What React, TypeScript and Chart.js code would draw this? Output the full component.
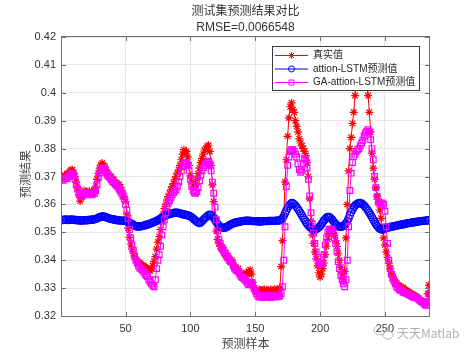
import React, { useEffect, useRef } from 'react';
import { Chart, registerables } from 'chart.js';

Chart.register(...registerables);

const titleText = '测试集预测结果对比';
const subtitleText = 'RMSE=0.0066548';
const xLabel = '预测样本';
const yLabel = '预测结果';
const seriesNames = ['真实值', 'attion-LSTM预测值', 'GA-attion-LSTM预测值'];
const xTicks = [50, 100, 150, 200, 250];
const yTicks = [0.32, 0.33, 0.34, 0.35, 0.36, 0.37, 0.38, 0.39, 0.4, 0.41, 0.42];
const xMin = 1;
const xMax = 284;
const watermark = '天天Matlab';

const trueValues = [
  0.3700, 0.3698, 0.3705, 0.3702, 0.3710, 0.3712, 0.3718, 0.3722, 0.3724, 0.3712,
  0.3700, 0.3680, 0.3660, 0.3635, 0.3612, 0.3625, 0.3638, 0.3650, 0.3645, 0.3638,
  0.3642, 0.3648, 0.3640, 0.3645, 0.3638, 0.3652, 0.3665, 0.3690, 0.3712, 0.3730,
  0.3742, 0.3748, 0.3740, 0.3735, 0.3722, 0.3715, 0.3708, 0.3702, 0.3698, 0.3690,
  0.3688, 0.3680, 0.3676, 0.3670, 0.3672, 0.3662, 0.3650, 0.3640, 0.3625, 0.3610,
  0.3565, 0.3515, 0.3482, 0.3458, 0.3440, 0.3425, 0.3412, 0.3402, 0.3396, 0.3390,
  0.3392, 0.3385, 0.3382, 0.3380, 0.3375, 0.3372, 0.3368, 0.3365, 0.3362, 0.3368,
  0.3380, 0.3395, 0.3413, 0.3440, 0.3465, 0.3485, 0.3510, 0.3540, 0.3565, 0.3585,
  0.3600, 0.3615, 0.3628, 0.3640, 0.3652, 0.3664, 0.3675, 0.3688, 0.3700, 0.3712,
  0.3724, 0.3740, 0.3760, 0.3780, 0.3796, 0.3785, 0.3790, 0.3770, 0.3740, 0.3702,
  0.3680, 0.3665, 0.3662, 0.3670, 0.3690, 0.3710, 0.3730, 0.3750, 0.3765, 0.3780,
  0.3795, 0.3800, 0.3808, 0.3812, 0.3790, 0.3740, 0.3670, 0.3610, 0.3550, 0.3505,
  0.3475, 0.3460, 0.3450, 0.3440, 0.3445, 0.3425, 0.3420, 0.3410, 0.3415, 0.3400,
  0.3395, 0.3400, 0.3385, 0.3375, 0.3370, 0.3365, 0.3370, 0.3355, 0.3345, 0.3340,
  0.3350, 0.3345, 0.3355, 0.3350, 0.3360, 0.3365, 0.3350, 0.3320, 0.3300, 0.3290,
  0.3285, 0.3290, 0.3295, 0.3292, 0.3288, 0.3293, 0.3296, 0.3290, 0.3294, 0.3291,
  0.3289, 0.3295, 0.3292, 0.3290, 0.3296, 0.3293, 0.3290, 0.3294, 0.3300, 0.3377,
  0.3470, 0.3560, 0.3680, 0.3760, 0.3844, 0.3910, 0.3950, 0.3964, 0.3940, 0.3930,
  0.3900, 0.3880, 0.3860, 0.3835, 0.3820, 0.3810, 0.3800, 0.3790, 0.3775, 0.3750,
  0.3700, 0.3620, 0.3540, 0.3490, 0.3460, 0.3430, 0.3405, 0.3380, 0.3355, 0.3340,
  0.3350, 0.3370, 0.3390, 0.3420, 0.3450, 0.3475, 0.3495, 0.3509, 0.3505, 0.3500,
  0.3490, 0.3470, 0.3449, 0.3425, 0.3400, 0.3375, 0.3350, 0.3330, 0.3360, 0.3480,
  0.3600, 0.3720, 0.3800, 0.3840, 0.3890, 0.3930, 0.3990, 0.4030, 0.4050, 0.4065,
  0.4075, 0.4080, 0.4078, 0.4070, 0.4060, 0.4035, 0.3990, 0.3930, 0.3860, 0.3784,
  0.3730, 0.3690, 0.3660, 0.3630, 0.3605, 0.3580, 0.3550, 0.3515, 0.3480, 0.3455,
  0.3430, 0.3410, 0.3389, 0.3370, 0.3350, 0.3340, 0.3330, 0.3322, 0.3318, 0.3310,
  0.3308, 0.3305, 0.3300, 0.3302, 0.3296, 0.3292, 0.3290, 0.3286, 0.3284, 0.3280,
  0.3278, 0.3275, 0.3272, 0.3270, 0.3266, 0.3262, 0.3257, 0.3255, 0.3252, 0.3248,
  0.3245, 0.3250, 0.3280, 0.3311,
];

const attionLstm = [
  0.3545, 0.3544, 0.3545, 0.3546, 0.3545, 0.3544, 0.3545, 0.3546, 0.3545, 0.3545,
  0.3544, 0.3544, 0.3543, 0.3543, 0.3542, 0.3542, 0.3543, 0.3543, 0.3543, 0.3543,
  0.3544, 0.3544, 0.3545, 0.3545, 0.3546, 0.3547, 0.3548, 0.3550, 0.3552, 0.3554,
  0.3556, 0.3557, 0.3557, 0.3556, 0.3554, 0.3552, 0.3550, 0.3549, 0.3548, 0.3547,
  0.3546, 0.3545, 0.3544, 0.3543, 0.3543, 0.3542, 0.3542, 0.3542, 0.3542, 0.3541,
  0.3540, 0.3538, 0.3535, 0.3532, 0.3530, 0.3527, 0.3524, 0.3522, 0.3521, 0.3521,
  0.3521, 0.3522, 0.3523, 0.3524, 0.3525, 0.3527, 0.3528, 0.3530, 0.3531, 0.3533,
  0.3535, 0.3537, 0.3539, 0.3541, 0.3544, 0.3546, 0.3549, 0.3552, 0.3555, 0.3558,
  0.3561, 0.3563, 0.3565, 0.3566, 0.3567, 0.3568, 0.3569, 0.3570, 0.3570, 0.3570,
  0.3569, 0.3568, 0.3567, 0.3565, 0.3564, 0.3563, 0.3562, 0.3561, 0.3559, 0.3557,
  0.3554, 0.3550, 0.3546, 0.3542, 0.3538, 0.3535, 0.3533, 0.3535, 0.3540, 0.3545,
  0.3550, 0.3554, 0.3558, 0.3562, 0.3563, 0.3562, 0.3558, 0.3551, 0.3544, 0.3537,
  0.3530, 0.3524, 0.3520, 0.3517, 0.3516, 0.3516, 0.3517, 0.3519, 0.3522, 0.3525,
  0.3528, 0.3530, 0.3532, 0.3534, 0.3535, 0.3536, 0.3537, 0.3538, 0.3539, 0.3540,
  0.3541, 0.3541, 0.3542, 0.3542, 0.3542, 0.3541, 0.3541, 0.3540, 0.3540, 0.3540,
  0.3540, 0.3539, 0.3539, 0.3539, 0.3539, 0.3540, 0.3540, 0.3540, 0.3540, 0.3541,
  0.3541, 0.3541, 0.3541, 0.3541, 0.3541, 0.3542, 0.3542, 0.3542, 0.3543, 0.3545,
  0.3550, 0.3558, 0.3568, 0.3578, 0.3587, 0.3595, 0.3601, 0.3605, 0.3604, 0.3601,
  0.3596, 0.3590, 0.3583, 0.3576, 0.3568, 0.3560, 0.3552, 0.3545, 0.3537, 0.3530,
  0.3524, 0.3519, 0.3515, 0.3512, 0.3510, 0.3510, 0.3511, 0.3514, 0.3518, 0.3522,
  0.3528, 0.3535, 0.3542, 0.3548, 0.3553, 0.3555, 0.3555, 0.3552, 0.3547, 0.3541,
  0.3535, 0.3530, 0.3525, 0.3522, 0.3520, 0.3520, 0.3521, 0.3523, 0.3527, 0.3532,
  0.3540, 0.3550, 0.3562, 0.3573, 0.3582, 0.3590, 0.3596, 0.3600, 0.3603, 0.3605,
  0.3605, 0.3603, 0.3600, 0.3595, 0.3590, 0.3584, 0.3577, 0.3570, 0.3562, 0.3554,
  0.3546, 0.3538, 0.3530, 0.3523, 0.3517, 0.3513, 0.3511, 0.3510, 0.3511, 0.3513,
  0.3515, 0.3516, 0.3518, 0.3519, 0.3520, 0.3521, 0.3522, 0.3523, 0.3524, 0.3525,
  0.3526, 0.3527, 0.3528, 0.3529, 0.3530, 0.3531, 0.3532, 0.3533, 0.3533, 0.3534,
  0.3535, 0.3536, 0.3537, 0.3537, 0.3538, 0.3539, 0.3540, 0.3540, 0.3541, 0.3541,
  0.3542, 0.3542, 0.3543, 0.3543,
];

const gaAttionLstm = [
  0.3690, 0.3686, 0.3692, 0.3695, 0.3693, 0.3700, 0.3705, 0.3710, 0.3712, 0.3705,
  0.3690, 0.3670, 0.3655, 0.3640, 0.3630, 0.3628, 0.3632, 0.3638, 0.3642, 0.3640,
  0.3636, 0.3640, 0.3636, 0.3634, 0.3638, 0.3640, 0.3650, 0.3670, 0.3695, 0.3712,
  0.3722, 0.3728, 0.3730, 0.3725, 0.3715, 0.3705, 0.3700, 0.3695, 0.3688, 0.3682,
  0.3678, 0.3672, 0.3668, 0.3662, 0.3655, 0.3648, 0.3640, 0.3630, 0.3620, 0.3600,
  0.3580, 0.3550, 0.3510, 0.3480, 0.3455, 0.3435, 0.3415, 0.3400, 0.3390, 0.3380,
  0.3372, 0.3368, 0.3365, 0.3358, 0.3350, 0.3345, 0.3340, 0.3330, 0.3322, 0.3315,
  0.3310, 0.3305, 0.3330, 0.3370, 0.3400, 0.3420, 0.3450, 0.3490, 0.3520, 0.3545,
  0.3570, 0.3593, 0.3605, 0.3615, 0.3625, 0.3635, 0.3642, 0.3648, 0.3652, 0.3665,
  0.3680, 0.3700, 0.3720, 0.3736, 0.3745, 0.3750, 0.3748, 0.3742, 0.3720, 0.3690,
  0.3665, 0.3650, 0.3642, 0.3640, 0.3645, 0.3660, 0.3685, 0.3705, 0.3720, 0.3732,
  0.3740, 0.3745, 0.3750, 0.3755, 0.3745, 0.3720, 0.3680, 0.3640, 0.3590, 0.3545,
  0.3505, 0.3475, 0.3460, 0.3445, 0.3438, 0.3430, 0.3425, 0.3415, 0.3408, 0.3400,
  0.3395, 0.3392, 0.3380, 0.3372, 0.3365, 0.3362, 0.3358, 0.3350, 0.3342, 0.3338,
  0.3335, 0.3330, 0.3325, 0.3318, 0.3312, 0.3315, 0.3320, 0.3312, 0.3300, 0.3290,
  0.3280, 0.3272, 0.3268, 0.3272, 0.3270, 0.3266, 0.3274, 0.3270, 0.3268, 0.3273,
  0.3270, 0.3266, 0.3272, 0.3275, 0.3270, 0.3268, 0.3273, 0.3270, 0.3272, 0.3280,
  0.3305, 0.3400, 0.3520, 0.3664, 0.3740, 0.3770, 0.3790, 0.3796, 0.3796, 0.3790,
  0.3780, 0.3770, 0.3745, 0.3725, 0.3715, 0.3720, 0.3745, 0.3765, 0.3760, 0.3730,
  0.3690, 0.3630, 0.3570, 0.3530, 0.3497, 0.3460, 0.3430, 0.3410, 0.3395, 0.3388,
  0.3385, 0.3390, 0.3420, 0.3455, 0.3480, 0.3500, 0.3510, 0.3512, 0.3510, 0.3500,
  0.3480, 0.3460, 0.3430, 0.3395, 0.3370, 0.3345, 0.3330, 0.3315, 0.3305, 0.3330,
  0.3400, 0.3520, 0.3650, 0.3712, 0.3750, 0.3772, 0.3780, 0.3790, 0.3796, 0.3800,
  0.3810, 0.3820, 0.3830, 0.3845, 0.3856, 0.3862, 0.3868, 0.3860, 0.3832, 0.3800,
  0.3760, 0.3700, 0.3660, 0.3628, 0.3610, 0.3605, 0.3600, 0.3605, 0.3600, 0.3575,
  0.3520, 0.3460, 0.3400, 0.3370, 0.3350, 0.3335, 0.3325, 0.3315, 0.3305, 0.3300,
  0.3296, 0.3292, 0.3290, 0.3286, 0.3284, 0.3282, 0.3280, 0.3278, 0.3276, 0.3273,
  0.3270, 0.3268, 0.3266, 0.3265, 0.3264, 0.3260, 0.3256, 0.3252, 0.3250, 0.3245,
  0.3240, 0.3238, 0.3250, 0.3280,
];

const seriesColors = ['#ff0000', '#0000ff', '#ff00ff'];
const seriesMarkers = ['star', 'circle', 'rect'];
const markerRadii = [4, 3.6, 4];

const LATIN = "'Liberation Sans', Arial, 'Noto Sans CJK SC', sans-serif";
const CJK = "'Noto Sans CJK SC', 'Liberation Sans', sans-serif";

function drawMarker(ctx: CanvasRenderingContext2D, style: string, x: number, y: number, color: string) {
  ctx.strokeStyle = color;
  ctx.lineWidth = 1;
  ctx.beginPath();
  if (style === 'star') {
    const r = 3.5;
    const d = r * Math.SQRT1_2;
    ctx.moveTo(x - r, y); ctx.lineTo(x + r, y);
    ctx.moveTo(x, y - r); ctx.lineTo(x, y + r);
    ctx.moveTo(x - d, y - d); ctx.lineTo(x + d, y + d);
    ctx.moveTo(x - d, y + d); ctx.lineTo(x + d, y - d);
  } else if (style === 'circle') {
    ctx.arc(x, y, 3, 0, Math.PI * 2);
  } else {
    ctx.rect(x - 2.5, y - 2.5, 5, 5);
  }
  ctx.stroke();
}

const decorPlugin = {
  id: 'matlabDecor',
  afterDraw(chart: any) {
    const { ctx, chartArea: a, scales } = chart;
    ctx.save();
    // axes box
    ctx.strokeStyle = '#707070';
    ctx.lineWidth = 1;
    ctx.strokeRect(a.left - 0.5, a.top - 0.5, a.right - a.left + 1, a.bottom - a.top + 1);
    // inner ticks
    ctx.beginPath();
    for (const v of xTicks) {
      const px = Math.round(scales.x.getPixelForValue(v)) + 0.5;
      ctx.moveTo(px, a.bottom); ctx.lineTo(px, a.bottom - 4);
      ctx.moveTo(px, a.top); ctx.lineTo(px, a.top + 4);
    }
    for (const v of yTicks) {
      const py = Math.round(scales.y.getPixelForValue(v)) + 0.5;
      ctx.moveTo(a.left, py); ctx.lineTo(a.left + 4, py);
      ctx.moveTo(a.right, py); ctx.lineTo(a.right - 4, py);
    }
    ctx.stroke();

    // legend
    const lx = 272, ly = 46, lw = 148, lh = 45;
    ctx.fillStyle = '#ffffff';
    ctx.fillRect(lx, ly, lw, lh);
    ctx.strokeStyle = '#3a3a3a';
    ctx.strokeRect(lx + 0.5, ly + 0.5, lw - 1, lh - 1);
    const rows = [55.5, 69, 82.5];
    for (let i = 0; i < 3; i++) {
      const y = rows[i];
      ctx.strokeStyle = seriesColors[i];
      ctx.lineWidth = 1;
      ctx.beginPath();
      ctx.moveTo(275, y); ctx.lineTo(308, y);
      ctx.stroke();
      drawMarker(ctx, seriesMarkers[i], 291.5, y, seriesColors[i]);
      ctx.fillStyle = '#262626';
      ctx.font = `10px ${LATIN}`;
      ctx.textAlign = 'left';
      ctx.textBaseline = 'middle';
      ctx.fillText(seriesNames[i], 313, y);
    }

    // titles
    const cx = (a.left + a.right) / 2;
    ctx.textAlign = 'center';
    ctx.textBaseline = 'middle';
    ctx.fillStyle = '#333333';
    ctx.font = `12px ${CJK}`;
    ctx.fillText(titleText, cx, 10);
    ctx.font = `12px ${LATIN}`;
    ctx.fillText(subtitleText, cx, 27.5);

    // axis labels
    ctx.fillStyle = '#444444';
    ctx.font = `12px ${CJK}`;
    ctx.fillText(xLabel, cx, 343);
    ctx.save();
    ctx.translate(25, 174);
    ctx.rotate(-Math.PI / 2);
    ctx.fillText(yLabel, 0, 0);
    ctx.restore();

    // watermark
    ctx.strokeStyle = '#b8b8b8';
    ctx.lineWidth = 1;
    ctx.beginPath();
    ctx.ellipse(380, 330, 6, 5, 0, 0, Math.PI * 2);
    ctx.stroke();
    ctx.beginPath();
    ctx.ellipse(388, 335, 5, 4, 0, 0, Math.PI * 2);
    ctx.stroke();
    ctx.fillStyle = '#b0b0b0';
    ctx.textAlign = 'left';
    ctx.font = `12px ${CJK}`;
    ctx.fillText(watermark, 397, 333);
    ctx.restore();
  },
};

export default function App() {
  const canvasRef = useRef<HTMLCanvasElement | null>(null);

  useEffect(() => {
    const canvas = canvasRef.current;
    if (!canvas) return;
    const series = [trueValues, attionLstm, gaAttionLstm];
    const datasets = series.map((vals, i) => ({
      label: seriesNames[i],
      data: vals.map((v, k) => ({ x: k + 1, y: v })),
      borderColor: seriesColors[i],
      borderWidth: 1,
      pointStyle: seriesMarkers[i],
      pointRadius: markerRadii[i],
      pointBorderColor: seriesColors[i],
      pointBackgroundColor: 'rgba(0,0,0,0)',
      pointBorderWidth: 1.2,
      fill: false,
      tension: 0,
      order: 2 - i,
    }));
    const chart = new Chart(canvas, {
      type: 'line',
      data: { datasets },
      plugins: [decorPlugin],
      options: {
        responsive: false,
        animation: false,
        devicePixelRatio: 1,
        layout: { padding: { left: 0, top: 37, right: 45, bottom: 0 } },
        plugins: {
          legend: { display: false },
          tooltip: { enabled: false },
          title: { display: false },
        },
        events: [],
        scales: {
          x: {
            type: 'linear',
            min: xMin,
            max: xMax,
            border: { display: false },
            grid: { color: '#e6e6e6', lineWidth: 1, drawTicks: false },
            ticks: {
              color: '#333333',
              font: { family: LATIN, size: 11 },
              padding: 6,
              maxRotation: 0,
            },
            afterBuildTicks: (s: any) => { s.ticks = xTicks.map((v) => ({ value: v })); },
            afterFit: (s: any) => { s.height = 39; },
          },
          y: {
            type: 'linear',
            min: 0.32,
            max: 0.42,
            border: { display: false },
            grid: { color: '#e6e6e6', lineWidth: 1, drawTicks: false },
            ticks: {
              color: '#333333',
              font: { family: LATIN, size: 11 },
              padding: 6,
              callback: (v: any) => String(Math.round(Number(v) * 100) / 100),
            },
            afterBuildTicks: (s: any) => { s.ticks = yTicks.map((v) => ({ value: v })); },
            afterFit: (s: any) => { s.width = 62; },
          },
        },
      },
    } as any);
    return () => chart.destroy();
  }, []);

  return (
    <div style={{ position: 'fixed', left: 0, top: 0, width: 474, height: 355, background: '#ffffff' }}>
      <canvas ref={canvasRef} width={474} height={355} style={{ display: 'block' }} />
    </div>
  );
}
